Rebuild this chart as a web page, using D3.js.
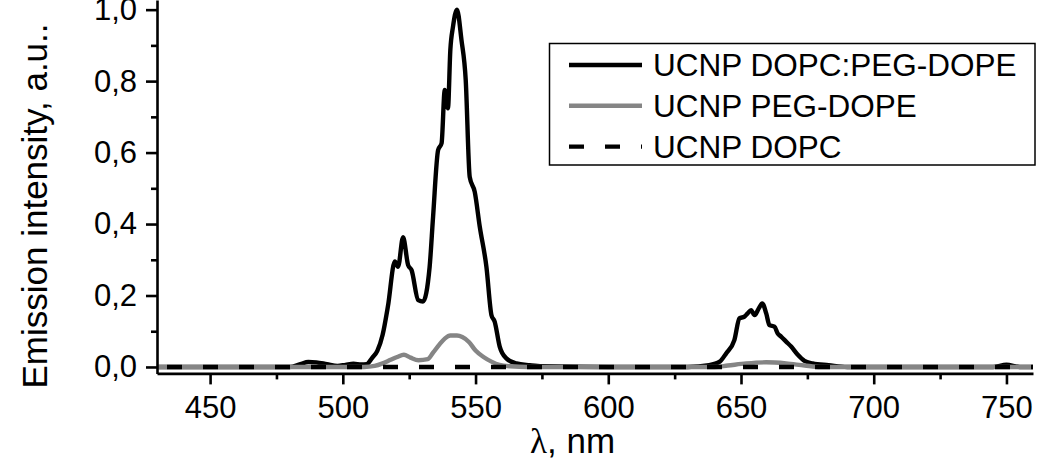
<!DOCTYPE html>
<html>
<head>
<meta charset="utf-8">
<script src="https://cdn.jsdelivr.net/npm/d3@7"></script>
<style>
body { margin: 0; background: #fff; }
svg { display: block; font-family: "Liberation Sans", Arial, sans-serif; }
</style>
</head>
<body>
<svg id="chart"></svg>
<script>
// UCNP DOPC:PEG-DOPE (black solid)
const wlDopcPeg = [430, 480, 484, 487, 490, 494, 498, 501, 504, 507, 509, 511, 513, 515, 517, 519.6, 520.8, 522.7, 524.6, 525.9,
    528.4, 530.2, 532.7, 534, 535.9, 537.2, 538.4, 539.6, 540.5, 541.5, 543, 544.7, 546.3, 547.8, 549.7, 551.6, 554.1, 556,
    557.2, 559.1, 561.6, 565.4, 570.4, 575, 600, 630, 638, 642, 644.4, 647.5, 649.4, 651.3, 652.5, 653.8, 655.1, 656.7, 658,
    659.5, 660.7, 662.6, 663.8, 665.1, 667, 668.9, 671.4, 673.9, 677, 683, 690, 745, 750, 755, 760];
const intDopcPeg = [0, 0, 0.008, 0.014, 0.013, 0.008, 0.003, 0.006, 0.009, 0.007, 0.008, 0.025, 0.045, 0.09, 0.17, 0.295, 0.28, 0.363, 0.285, 0.271,
    0.187, 0.183, 0.28, 0.42, 0.607, 0.626, 0.775, 0.724, 0.887, 0.952, 1.0, 0.915, 0.803, 0.532, 0.49, 0.392, 0.28, 0.145,
    0.127, 0.057, 0.024, 0.01, 0.005, 0.002, 0, 0, 0.005, 0.015, 0.038, 0.075, 0.136, 0.141, 0.15, 0.159, 0.145, 0.164, 0.178,
    0.15, 0.117, 0.113, 0.094, 0.085, 0.071, 0.057, 0.034, 0.017, 0.01, 0.005, 0, 0, 0.006, 0, 0];

// UCNP PEG-DOPE (grey solid)
const wlPeg = [430, 508, 512, 515, 518, 520.5, 523, 525.5, 528.5, 532, 534, 536.5, 538.5, 540.5, 543, 545, 547.5, 550,
    553, 556, 559, 563, 570, 640, 645, 652, 659.5, 667, 674, 680, 760];
const intPeg = [0, 0, 0.003, 0.01, 0.02, 0.028, 0.034, 0.026, 0.019, 0.022, 0.04, 0.064, 0.08, 0.088, 0.088, 0.084, 0.07, 0.046,
    0.028, 0.015, 0.006, 0.002, 0, 0, 0.004, 0.01, 0.013, 0.01, 0.004, 0, 0];

// UCNP DOPC (black dashed)
const wlDopc = [430, 500, 600, 700, 760];
const intDopc = [0, 0, 0, 0, 0];

const seriesNames = ['UCNP DOPC:PEG-DOPE', 'UCNP PEG-DOPE', 'UCNP DOPC'];
const xTicks = [450, 500, 550, 600, 650, 700, 750];
const xMinorTicks = [475, 525, 575, 625, 675, 725];
const yTicks = [0, 0.2, 0.4, 0.6, 0.8, 1.0];
const yMinorTicks = [0.1, 0.3, 0.5, 0.7, 0.9];

class SpectrumChart {

    constructor(config) {
        this.config = {
            parent: config.parent,
            width: config.width || 1063,
            height: config.height || 466,
            xlabel: config.xlabel || '',
            ylabel: config.ylabel || ''
        };
        this.init();
    }

    init() {
        let self = this;

        self.svg = d3.select(self.config.parent)
            .attr('width', self.config.width)
            .attr('height', self.config.height);

        self.xscale = d3.scaleLinear()
            .domain([430, 760])
            .range([157, 1033]);

        // axis sits a little below zero, top runs off the picture
        self.yscale = d3.scaleLinear()
            .domain([-0.018, 1.027])
            .range([373.4, 0]);

        self.series = [
            { name: seriesNames[0], data: d3.zip(wlDopcPeg, intDopcPeg), color: '#000', dash: null },
            { name: seriesNames[1], data: d3.zip(wlPeg, intPeg), color: '#858585', dash: null },
            { name: seriesNames[2], data: d3.zip(wlDopc, intDopc), color: '#000', dash: '15,21' }
        ];
    }

    render() {
        let self = this;
        const fmt = d => d3.format('.1f')(d).replace('.', ',');

        const line = d3.line()
            .x(d => self.xscale(d[0]))
            .y(d => self.yscale(d[1]))
            .curve(d3.curveMonotoneX);

        self.svg.append('g')
            .selectAll('path')
            .data(self.series)
            .join('path')
            .attr('d', d => line(d.data))
            .attr('fill', 'none')
            .attr('stroke', d => d.color)
            .attr('stroke-width', 4.4)
            .attr('stroke-linejoin', 'round')
            .attr('stroke-dasharray', d => d.dash)
            .attr('stroke-dashoffset', d => d.dash ? 26 : null);

        // minor ticks
        self.svg.append('g')
            .attr('transform', `translate(0, ${self.yscale.range()[0]})`)
            .call(d3.axisBottom(self.xscale).tickValues(xMinorTicks).tickSize(6).tickFormat(''))
            .call(g => g.select('.domain').remove());
        self.svg.append('g')
            .attr('transform', `translate(${self.xscale.range()[0]}, 0)`)
            .call(d3.axisLeft(self.yscale).tickValues(yMinorTicks).tickSize(6).tickFormat(''))
            .call(g => g.select('.domain').remove());

        self.svg.append('g')
            .attr('transform', `translate(0, ${self.yscale.range()[0]})`)
            .call(d3.axisBottom(self.xscale)
                .tickValues(xTicks)
                .tickSize(11)
                .tickSizeOuter(0)
                .tickPadding(12));

        self.svg.append('g')
            .attr('transform', `translate(${self.xscale.range()[0]}, 0)`)
            .call(d3.axisLeft(self.yscale)
                .tickValues(yTicks)
                .tickSize(11)
                .tickSizeOuter(0)
                .tickPadding(9)
                .tickFormat(fmt));

        self.svg.selectAll('.tick line, .domain')
            .attr('stroke', '#000')
            .attr('stroke-width', 2.6);
        self.svg.selectAll('.tick text')
            .attr('font-family', '"Liberation Sans", Arial, sans-serif')
            .attr('font-size', 31)
            .attr('fill', '#000');

        // x title: lambda in a serif face
        const xt = self.svg.append('text')
            .attr('x', 530)
            .attr('y', 453)
            .attr('font-size', 35);
        xt.append('tspan')
            .attr('font-family', '"Liberation Serif", serif')
            .text('λ');
        xt.append('tspan')
            .text(self.config.xlabel);

        self.svg.append('text')
            .attr('transform', 'translate(47, 206) rotate(-90)')
            .attr('text-anchor', 'middle')
            .attr('font-size', 35)
            .text(self.config.ylabel);

        // legend
        const legend = self.svg.append('g');
        legend.append('rect')
            .attr('x', 549.5)
            .attr('y', 43.5)
            .attr('width', 485.5)
            .attr('height', 121.5)
            .attr('fill', '#fff')
            .attr('stroke', '#000')
            .attr('stroke-width', 1.5);

        const rows = legend.selectAll('g.item')
            .data(self.series)
            .join('g')
            .attr('class', 'item')
            .attr('transform', (d, i) => `translate(0, ${65 + i * 40.8})`);
        rows.append('line')
            .attr('x1', 569)
            .attr('x2', 642)
            .attr('stroke', d => d.color)
            .attr('stroke-width', 4.4)
            .attr('stroke-dasharray', d => d.dash);
        rows.append('text')
            .attr('x', 653)
            .attr('y', 11)
            .attr('font-size', 31.5)
            .text(d => d.name);
    }
}

const chart = new SpectrumChart({
    parent: '#chart',
    xlabel: ', nm',
    ylabel: 'Emission intensity, a.u..'
});
chart.render();
</script>
</body>
</html>
